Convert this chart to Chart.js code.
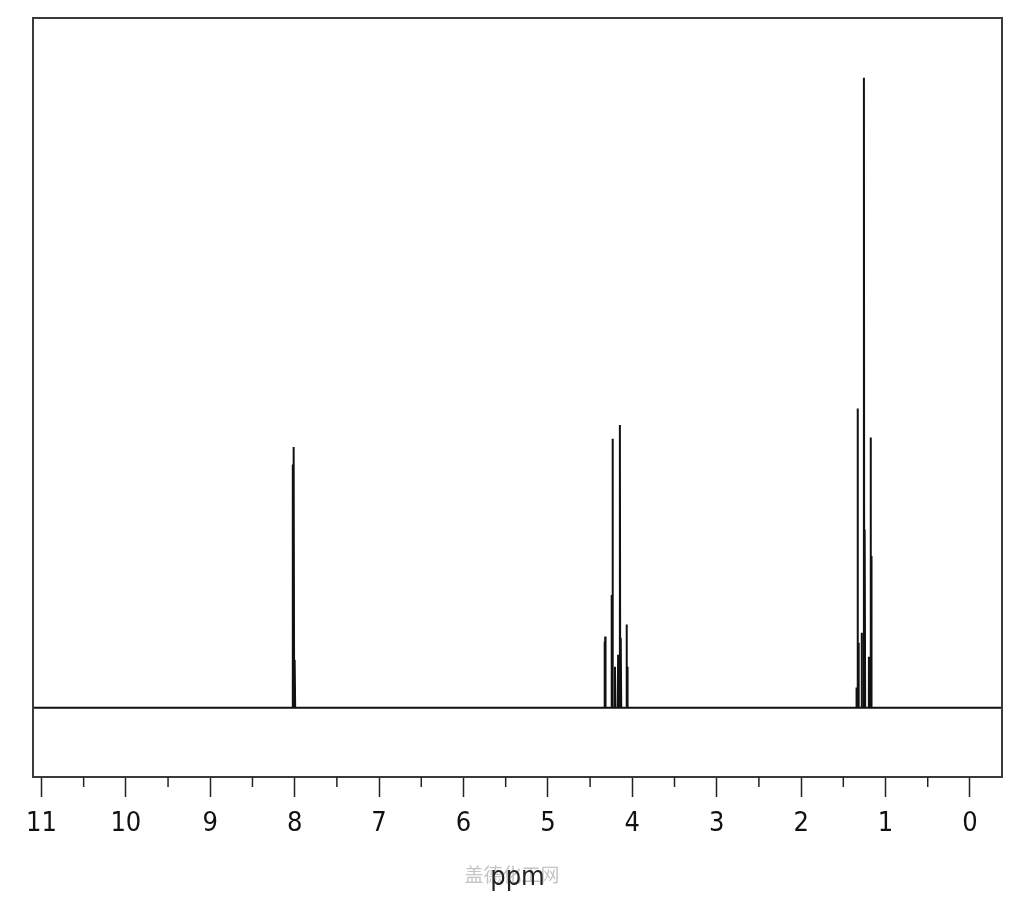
<!doctype html>
<html lang="zh">
<head>
<meta charset="UTF-8" />
<title>NMR | ppm</title>
<script src="https://cdn.jsdelivr.net/npm/chart.js"></script>
<style>
  body { margin: 0; background: #fff; }
  #box { width: 1024px; height: 900px; }
</style>
</head>
<body>
<div id="box"><canvas id="espectro" width="1024" height="900"></canvas></div>

<script>
  // linhas do espectro (ppm / intensidade relativa ao pico mais alto)
  const shiftPpm = [8.022, 8.010, 7.998,
    4.330, 4.321, 4.246, 4.234, 4.205, 4.168, 4.147, 4.135, 4.068, 4.058,
    1.345, 1.331, 1.320, 1.283, 1.256, 1.245, 1.197, 1.177, 1.170];
  const intensity = [0.386, 0.414, 0.076,
    0.105, 0.113, 0.179, 0.427, 0.065, 0.084, 0.449, 0.111, 0.132, 0.065,
    0.032, 0.475, 0.103, 0.119, 1.0, 0.283, 0.081, 0.429, 0.241];

  const majorTicks = [11, 10, 9, 8, 7, 6, 5, 4, 3, 2, 1, 0];
  const minorTicks = [10.5, 9.5, 8.5, 7.5, 6.5, 5.5, 4.5, 3.5, 2.5, 1.5, 0.5];
  const xLabel = "ppm";
  const marcaDagua = "盖德化工网";

  const ppmMin = -0.38, ppmMax = 11.1;
  const yMin = -0.11, yMax = 1.095;

  function montarPontos() {
    const w = 0.004;
    let pts = [{ x: ppmMax, y: 0 }];
    shiftPpm.forEach((p, i) => {
      pts.push({ x: p + w, y: 0 });
      pts.push({ x: p, y: intensity[i] });
      pts.push({ x: p - w, y: 0 });
    });
    pts.push({ x: ppmMin, y: 0 });
    return pts;
  }

  const moldura = {
    id: "moldura",
    beforeDraw(chart) {
      const ctx = chart.ctx;
      ctx.save();
      ctx.fillStyle = "#c4c4c4";
      ctx.font = '19px "Noto Sans CJK SC"';
      ctx.textAlign = "center";
      ctx.textBaseline = "middle";
      ctx.fillText(marcaDagua, 512, 875);
      ctx.restore();
    },
    afterDraw(chart) {
      const { ctx, chartArea: a } = chart;
      const x = chart.scales.x;
      ctx.save();
      ctx.strokeStyle = "#3a3a3a";
      ctx.lineWidth = 2;
      ctx.strokeRect(a.left, a.top, a.right - a.left, a.bottom - a.top);
      ctx.strokeStyle = "#222";
      ctx.lineWidth = 1.5;
      minorTicks.forEach((v) => {
        const px = x.getPixelForValue(v);
        ctx.beginPath();
        ctx.moveTo(px, a.bottom);
        ctx.lineTo(px, a.bottom + 10);
        ctx.stroke();
      });
      ctx.restore();
    },
  };

  const fonte = '"Liberation Sans Narrow", "DejaVu Sans Condensed", "Liberation Sans", sans-serif';

  new Chart(document.getElementById("espectro"), {
    type: "scatter",
    data: {
      datasets: [
        {
          data: montarPontos(),
          showLine: true,
          borderColor: "#111",
          borderWidth: 2,
          pointRadius: 0,
          tension: 0,
        },
      ],
    },
    options: {
      responsive: false,
      animation: false,
      layout: { padding: { left: 33, right: 22, top: 18, bottom: 0 } },
      plugins: { legend: { display: false }, tooltip: { enabled: false } },
      scales: {
        x: {
          type: "linear",
          reverse: true,
          min: ppmMin,
          max: ppmMax,
          afterBuildTicks: (s) => { s.ticks = majorTicks.map((v) => ({ value: v })); },
          afterFit: (s) => { s.height = 123; },
          grid: { drawOnChartArea: false, tickLength: 20, tickColor: "#222", tickWidth: 1.5 },
          border: { display: false },
          ticks: {
            padding: 11,
            color: "#111",
            font: { family: fonte, size: 27 },
            maxRotation: 0,
            autoSkip: false,
            callback: (v) => String(v),
          },
          title: {
            display: true,
            text: xLabel,
            color: "#222",
            font: { family: fonte, size: 27 },
            padding: { top: 0, bottom: 6 },
          },
        },
        y: { display: false, min: yMin, max: yMax },
      },
    },
    plugins: [moldura],
  });
</script>
</body>
</html>
